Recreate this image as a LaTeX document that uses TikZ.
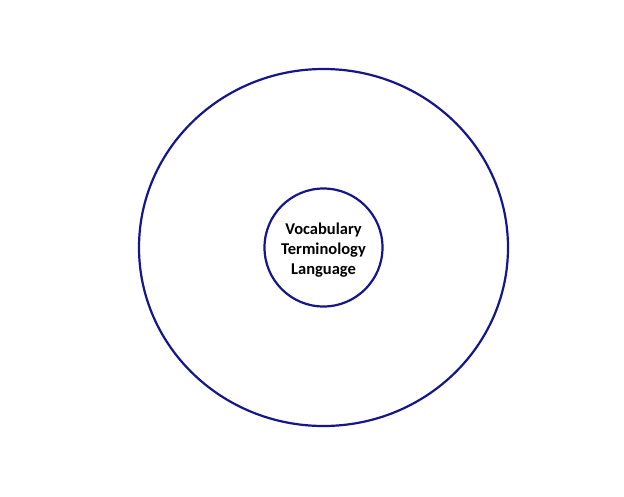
\documentclass[tikz,border=0pt]{standalone}
\usepackage{fontspec}
\setmainfont{Carlito}
\usetikzlibrary{shapes.geometric}
\usetikzlibrary{positioning}
\definecolor{ringblue}{RGB}{22,22,138}
\tikzset{
    ring/.style={
           ellipse,
           draw=ringblue, line width=2.2pt,
           inner sep=0pt,
           },
    core/.style={
           circle,
           draw=ringblue, line width=2.2pt,
           inner sep=0pt,
           minimum size=118pt,
           },
    words/.style={
           align=center,
           font=\fontsize{16.5}{20}\selectfont\bfseries,
           },
}

\begin{document}
\begin{tikzpicture}[x=1pt,y=-1pt]

 % page size of the reference
 \useasboundingbox (0,0) rectangle (624,496);

 % outer ring
 \node[ring,
  minimum width=369pt,
  minimum height=357pt] (DOMAIN) at (323.5,247.5) {};

 % inner circle
 \node[core] (CORE) at (DOMAIN.center) {};

 % the three words, a little below the centre
 \node[words,
  yshift=-3pt] (WORDS) at (CORE.center)
 {Vocabulary\\Terminology\\Language};

\end{tikzpicture}
\end{document}
